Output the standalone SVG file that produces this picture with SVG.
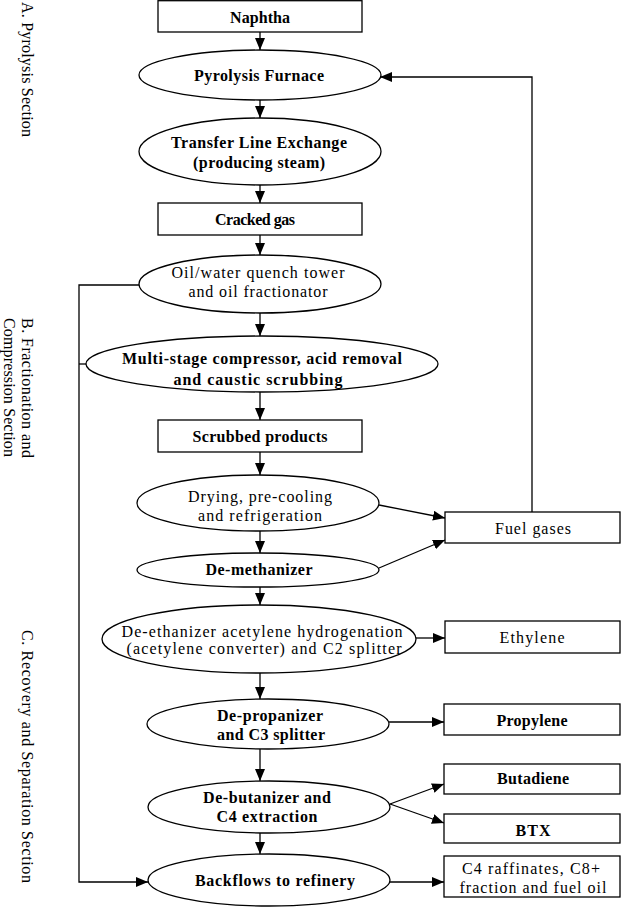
<svg xmlns="http://www.w3.org/2000/svg" width="621" height="907" viewBox="0 0 621 907">
<style>
  .box { fill: #ffffff; stroke: #000000; stroke-width: 1.3; }
  .t { font-family: "Liberation Serif", "Times New Roman", serif; font-size: 16px; fill: #000000; text-anchor: middle; }
  .b { font-weight: bold; }
  .lab { font-family: "Liberation Serif", "Times New Roman", serif; font-size: 16px; fill: #000000; }
  .c { fill: none; stroke: #000000; stroke-width: 1.3; }
  .a { marker-end: url(#arr); }
</style>
<defs>
  <marker id="arr" markerUnits="userSpaceOnUse" markerWidth="13" markerHeight="11" refX="12" refY="5" orient="auto">
    <path d="M0,0 L12,5 L0,10 z" fill="#000000"/>
  </marker>
</defs>
<rect x="0" y="0" width="621" height="907" fill="#ffffff"/>

<g id="section-labels">
  <text class="lab" transform="translate(22,2) rotate(90)" textLength="135" lengthAdjust="spacing">A. Pyrolysis Section</text>
  <text class="lab" transform="translate(22,318) rotate(90)" textLength="140" lengthAdjust="spacing">B. Fractionation and</text>
  <text class="lab" transform="translate(4,318) rotate(90)" textLength="139" lengthAdjust="spacing">Compression Section</text>
  <text class="lab" transform="translate(22,630) rotate(90)" textLength="253" lengthAdjust="spacing">C. Recovery and Separation Section</text>
</g>

<g id="connectors">
  <line class="c a" x1="260" y1="32" x2="260" y2="50"/>
  <line class="c a" x1="260" y1="100" x2="260" y2="118"/>
  <line class="c a" x1="260" y1="185" x2="260" y2="203"/>
  <line class="c a" x1="260" y1="235" x2="260" y2="255"/>
  <line class="c a" x1="260" y1="313" x2="260" y2="336"/>
  <line class="c a" x1="260" y1="392" x2="260" y2="420"/>
  <line class="c a" x1="260" y1="452" x2="260" y2="475"/>
  <line class="c a" x1="260" y1="531" x2="260" y2="553"/>
  <line class="c a" x1="260" y1="587" x2="260" y2="605"/>
  <line class="c a" x1="260" y1="673" x2="260" y2="699"/>
  <line class="c a" x1="260" y1="749" x2="260" y2="781"/>
  <line class="c a" x1="260" y1="833" x2="260" y2="854"/>
  <polyline class="c a" points="139,285 79,285 79,882 148,882"/>
  <line class="c" x1="86" y1="364" x2="79" y2="364"/>
  <line class="c a" x1="379" y1="505" x2="445" y2="518"/>
  <line class="c a" x1="379" y1="568" x2="445" y2="540"/>
  <polyline class="c a" points="532,512 532,77 380,77"/>
  <line class="c a" x1="416" y1="638" x2="445" y2="638"/>
  <line class="c a" x1="389" y1="722" x2="444" y2="722"/>
  <line class="c a" x1="390" y1="804" x2="444" y2="784"/>
  <line class="c a" x1="390" y1="804" x2="444" y2="823"/>
  <line class="c a" x1="390" y1="882" x2="444" y2="882"/>
</g>

<g id="naphtha">
  <rect class="box" x="158" y="0.7" width="204" height="31.3"/>
  <text class="t b" x="260" y="23" textLength="60" lengthAdjust="spacing">Naphtha</text>
</g>
<g id="pyrolysis-furnace">
  <ellipse class="box" cx="260" cy="75" rx="121" ry="25"/>
  <text class="t b" x="259" y="81" textLength="130" lengthAdjust="spacing">Pyrolysis Furnace</text>
</g>
<g id="transfer-line-exchange">
  <ellipse class="box" cx="260" cy="151.5" rx="121" ry="33.5"/>
  <text class="t b" x="259" y="148" textLength="176" lengthAdjust="spacing">Transfer Line Exchange</text>
  <text class="t b" x="259" y="168" textLength="132" lengthAdjust="spacing">(producing steam)</text>
</g>
<g id="cracked-gas">
  <rect class="box" x="158" y="203" width="204" height="32"/>
  <text class="t b" x="255" y="225" textLength="80" lengthAdjust="spacing">Cracked gas</text>
</g>
<g id="quench-tower">
  <ellipse class="box" cx="260" cy="284" rx="121" ry="29"/>
  <text class="t" x="258" y="278" textLength="173" lengthAdjust="spacing">Oil/water quench tower</text>
  <text class="t" x="258" y="297" textLength="139" lengthAdjust="spacing">and oil fractionator</text>
</g>
<g id="compressor">
  <ellipse class="box" cx="262" cy="364" rx="176" ry="28"/>
  <text class="t b" x="262" y="364" textLength="280" lengthAdjust="spacing">Multi-stage compressor, acid removal</text>
  <text class="t b" x="258" y="385" textLength="169" lengthAdjust="spacing">and caustic scrubbing</text>
</g>
<g id="scrubbed-products">
  <rect class="box" x="158" y="420" width="204" height="32"/>
  <text class="t b" x="260" y="442" textLength="135" lengthAdjust="spacing">Scrubbed products</text>
</g>
<g id="drying">
  <ellipse class="box" cx="258" cy="503" rx="121" ry="28"/>
  <text class="t" x="260" y="502" textLength="144" lengthAdjust="spacing">Drying, pre-cooling</text>
  <text class="t" x="260" y="521" textLength="124" lengthAdjust="spacing">and refrigeration</text>
</g>
<g id="de-methanizer">
  <ellipse class="box" cx="258" cy="570" rx="121" ry="17"/>
  <text class="t b" x="259" y="575" textLength="107" lengthAdjust="spacing">De-methanizer</text>
</g>
<g id="de-ethanizer">
  <ellipse class="box" cx="259" cy="639" rx="157" ry="34"/>
  <text class="t" x="262" y="637" textLength="281" lengthAdjust="spacing">De-ethanizer acetylene hydrogenation</text>
  <text class="t" x="264" y="654" textLength="275" lengthAdjust="spacing">(acetylene converter) and C2 splitter</text>
</g>
<g id="de-propanizer">
  <ellipse class="box" cx="268" cy="724" rx="121" ry="25"/>
  <text class="t b" x="270" y="721" textLength="106" lengthAdjust="spacing">De-propanizer</text>
  <text class="t b" x="271" y="740" textLength="108" lengthAdjust="spacing">and C3 splitter</text>
</g>
<g id="de-butanizer">
  <ellipse class="box" cx="269" cy="807" rx="121" ry="26"/>
  <text class="t b" x="267" y="803" textLength="128" lengthAdjust="spacing">De-butanizer and</text>
  <text class="t b" x="267" y="822" textLength="101" lengthAdjust="spacing">C4 extraction</text>
</g>
<g id="backflows">
  <ellipse class="box" cx="269" cy="880" rx="121" ry="26"/>
  <text class="t b" x="275" y="886" textLength="160" lengthAdjust="spacing">Backflows to refinery</text>
</g>
<g id="fuel-gases">
  <rect class="box" x="445" y="512" width="175" height="31"/>
  <text class="t" x="533" y="534" textLength="76" lengthAdjust="spacing">Fuel gases</text>
</g>
<g id="ethylene">
  <rect class="box" x="445" y="621" width="175" height="32"/>
  <text class="t" x="532" y="643" textLength="65" lengthAdjust="spacing">Ethylene</text>
</g>
<g id="propylene">
  <rect class="box" x="444" y="704" width="176" height="31"/>
  <text class="t b" x="532" y="726" textLength="71" lengthAdjust="spacing">Propylene</text>
</g>
<g id="butadiene">
  <rect class="box" x="444" y="764" width="176" height="30"/>
  <text class="t b" x="533" y="784" textLength="72" lengthAdjust="spacing">Butadiene</text>
</g>
<g id="btx">
  <rect class="box" x="444" y="814" width="176" height="29"/>
  <text class="t b" x="533" y="836" textLength="35" lengthAdjust="spacing">BTX</text>
</g>
<g id="c4-raffinates">
  <rect class="box" x="444" y="856" width="176" height="41"/>
  <text class="t" x="531" y="874" textLength="138" lengthAdjust="spacing">C4 raffinates, C8+</text>
  <text class="t" x="533" y="893" textLength="147" lengthAdjust="spacing">fraction and fuel oil</text>
</g>
</svg>
